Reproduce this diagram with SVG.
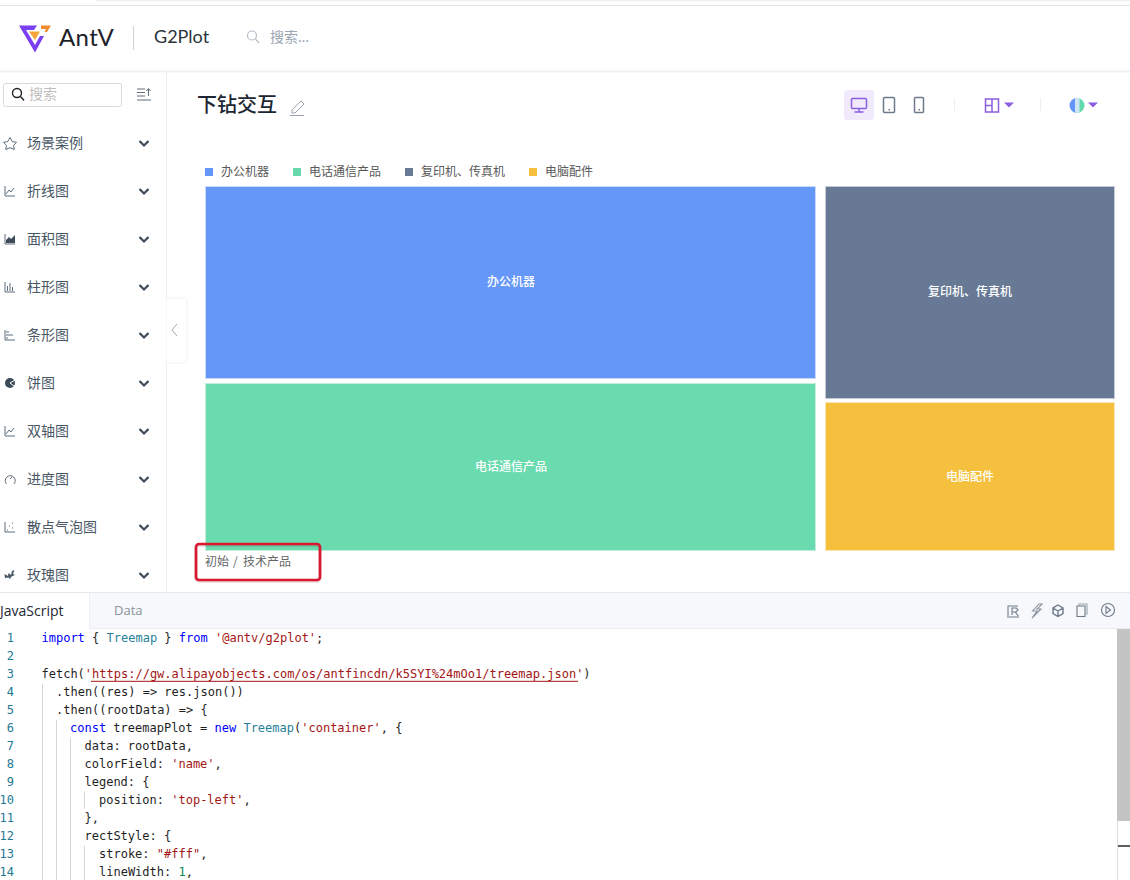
<svg xmlns="http://www.w3.org/2000/svg" width="1130" height="880" viewBox="0 0 1130 880">
<style>
text{font-family:"Noto Sans CJK SC","Noto Sans",sans-serif}
.nav{font-size:14px;fill:#4a5866}
.chev{fill:none;stroke:#3d4a58;stroke-width:2.2}
.ic{fill:none;stroke:#5f6d7c;stroke-width:1}
.lg{font-size:12px;fill:#595959}
.tm{font-size:12px;fill:#fff;text-anchor:middle;font-weight:500}
.ln{font:12px "DejaVu Sans Mono",monospace;fill:#237893;text-anchor:end}
.cd{font:12px "DejaVu Sans Mono",monospace;fill:#1f1f1f;white-space:pre}
.kw{fill:#0000ff}.ty{fill:#267f99}.st{fill:#a31515}.nm{fill:#098658}
.g{stroke:#d6d6d6;stroke-width:1}
.tb{fill:none;stroke:#6d7a8a;stroke-width:1.500}
.pu{fill:none;stroke:#8b5fe0;stroke-width:1.500}
</style>
<rect width="1130" height="880" fill="#fff"/>
<g id="topbar">
<rect x="96" y="0" width="1034" height="1" fill="#eeeeee"/>
<rect x="0" y="5" width="1130" height="1" fill="#e3e3e3"/>
<rect x="0" y="70" width="1130" height="1" fill="#f6f7f8"/>
<rect x="0" y="71" width="1130" height="1" fill="#f0f1f3"/>
<rect x="0" y="72" width="1130" height="1" fill="#f9f9fa"/>
<path d="M19 25.500H37L34 30H26L35 45L40 36L44 36L35 52.500Z" fill="#7b3ff2"/>
<path d="M41 25.500H51L47 32H44.500L46 29H41Z" fill="#f08c2e"/>
<path d="M29 31.500H40L35 40Z" fill="#f5a53a"/>
<text x="59" y="46" font-size="24" style="font-family:'Lato','Noto Sans',sans-serif;letter-spacing:.4px" fill="#1d2129">AntV</text>
<rect x="133" y="26" width="1" height="24" fill="#cfd3d7"/>
<text x="154" y="43" font-size="18" style="font-family:'Lato','Noto Sans',sans-serif" fill="#2b333b">G2Plot</text>
<circle cx="252" cy="35.500" r="4.500" fill="none" stroke="#b5bdc6" stroke-width="1.200"/><path d="M255.500 39L259 43" stroke="#b5bdc6" stroke-width="1.200"/>
<text x="270" y="42" font-size="14" fill="#9aa5b1">搜索<tspan style="font-family:'Noto Sans',sans-serif">…</tspan></text>
</g>
<g id="sidebar">
<rect x="166" y="73" width="1" height="519" fill="#eceef0"/>
<path d="M166.500 298H184a3 3 0 0 1 3 3V360a3 3 0 0 1-3 3H166.500" fill="#fff" stroke="#f2f2f2"/>
<path d="M177 324L172 330L177 336" fill="none" stroke="#a0a7ae"/>
<rect x="3.500" y="83.500" width="118" height="23" rx="2" fill="#fff" stroke="#d9d9d9"/>
<circle cx="17" cy="93" r="4.500" fill="none" stroke="#222" stroke-width="1.400"/><path d="M20.500 96.500L24 100.500" stroke="#222" stroke-width="1.400"/>
<text x="29" y="99" font-size="14" fill="#bfbfbf">搜索</text>
<path d="M137 89H145M137 92.500H145M137 96H145M137 100H151" stroke="#5f6d7c" fill="none"/><path d="M148.500 96V89M146.500 91L148.500 88.500L150.500 91" stroke="#5f6d7c" fill="none"/>
<g id="n1"><path class="ic" d="M10 137.500L12.300 141.600 16.500 142.300 13.500 145.500 14.300 149.500 10 147.700 5.700 149.500 6.500 145.500 3.500 142.300 7.700 141.600Z"/><text class="nav" x="27" y="148">场景案例</text><path class="chev" d="M139.500 141L144 145.500 148.500 141"/></g>
<g id="n2"><path class="ic" d="M5 186V196H15M6 194L9 190 11 192 14 188"/><text class="nav" x="27" y="196">折线图</text><path class="chev" d="M139.500 189L144 193.500 148.500 189"/></g>
<g id="n3"><path class="ic" d="M5 234V244H15"/><path d="M6 243V240L9 237 11 239 15 235V243Z" fill="#3d4a58"/><text class="nav" x="27" y="244">面积图</text><path class="chev" d="M139.500 237L144 241.500 148.500 237"/></g>
<g id="n4"><path class="ic" d="M5 282V292H15M7.500 291V286M10 291V283M12.500 291V287"/><text class="nav" x="27" y="292">柱形图</text><path class="chev" d="M139.500 285L144 289.500 148.500 285"/></g>
<g id="n5"><path class="ic" d="M5 330V340H15M6 332H9M6 335H13M6 338H8"/><text class="nav" x="27" y="340">条形图</text><path class="chev" d="M139.500 333L144 337.500 148.500 333"/></g>
<g id="n6"><circle cx="10" cy="383" r="5" fill="#3d4a58"/><path d="M10 383L15 380M10 383L14 386" stroke="#fff"/><text class="nav" x="27" y="388">饼图</text><path class="chev" d="M139.500 381L144 385.500 148.500 381"/></g>
<g id="n7"><path class="ic" d="M5 426V436H15M6 434L9 430 11 432 14 428"/><text class="nav" x="27" y="436">双轴图</text><path class="chev" d="M139.500 429L144 433.500 148.500 429"/></g>
<g id="n8"><path class="ic" d="M6.500 484A5 5 0 1 1 14 484M10 479L12 477"/><text class="nav" x="27" y="484">进度图</text><path class="chev" d="M139.500 477L144 481.500 148.500 477"/></g>
<g id="n9"><path class="ic" d="M5 522V532H15M7 530H8M9 526H10M12 528H13M12 523H13"/><text class="nav" x="27" y="532">散点气泡图</text><path class="chev" d="M139.500 525L144 529.500 148.500 525"/></g>
<g id="n10"><path d="M4.500 574L8 576 8.500 573 11 575 12 571 14.500 570 13 574 15 575 11.500 576.500 10 579 8.500 577.500 5 578Z" fill="#4a5866"/><text class="nav" x="27" y="580">玫瑰图</text><path class="chev" d="M139.500 573L144 577.500 148.500 573"/></g>
</g>
<g id="title">
<text x="197" y="112" font-size="20" font-weight="500" fill="#1d2733">下钻交互</text>
<path d="M292 110L301 101 304 104 295 113H292ZM290 115.500H304" fill="none" stroke="#9aa3ad"/>
</g>
<g id="toolbar">
<rect x="844" y="90" width="30" height="30" rx="3" fill="#f1eafd"/>
<rect x="851.500" y="98.500" width="15" height="10" rx="1" class="pu"/><path class="pu" d="M859 108.500V112M854.500 112H863.500"/>
<rect x="883.500" y="97.500" width="11" height="15" rx="1" class="tb"/><rect x="888.500" y="109" width="1.500" height="1.500" fill="#6d7a8a"/>
<rect x="914.500" y="97.500" width="9" height="15" rx="1" class="tb"/><rect x="918.500" y="109" width="1.500" height="1.500" fill="#6d7a8a"/>
<rect x="954" y="98" width="1" height="13" fill="#eeeeee"/>
<path class="pu" d="M985.500 99H998.500V112H985.500ZM992 99V112M985.500 105.500H992"/>
<path d="M1004 102.500H1014L1009 107.500Z" fill="#8b5fe0"/>
<rect x="1040" y="98" width="1" height="13" fill="#eeeeee"/>
<path d="M1077 98A7.500 7.500 0 0 0 1077 113Z" fill="#6395f9"/><path d="M1077 98A7.500 7.500 0 0 1 1077 113Z" fill="#62daab"/><rect x="1075" y="98.200" width="4.500" height="14.600" fill="#cfe4f5"/>
<path d="M1088 102.500H1098L1093 107.500Z" fill="#8b5fe0"/>
</g>
<g id="legend">
<rect x="205" y="168" width="8" height="8" fill="#6497f7"/><text class="lg" x="221" y="176">办公机器</text>
<rect x="293" y="168" width="8" height="8" fill="#67daad"/><text class="lg" x="309" y="176">电话通信产品</text>
<rect x="405" y="168" width="8" height="8" fill="#677995"/><text class="lg" x="421" y="176">复印机、传真机</text>
<rect x="529" y="168" width="8" height="8" fill="#f5c03e"/><text class="lg" x="545" y="176">电脑配件</text>
</g>
<g id="treemap">
<g id="t1"><rect x="205.500" y="186.500" width="610" height="192" fill="#6497f7" stroke="#c9dafb"/><text class="tm" x="511" y="286">办公机器</text></g>
<g id="t2"><rect x="205.500" y="383.500" width="610" height="167" fill="#69dbae" stroke="#c3eedd"/><text class="tm" x="511" y="471">电话通信产品</text></g>
<g id="t3"><rect x="825.500" y="186.500" width="289" height="212" fill="#677995" stroke="#c5ccd8"/><text class="tm" x="970" y="296">复印机、传真机</text></g>
<g id="t4"><rect x="825.500" y="402.500" width="289" height="148" fill="#f5c03e" stroke="#fbe7b0"/><text class="tm" x="970" y="481">电脑配件</text></g>
</g>
<g id="breadcrumb">
<text x="205" y="566" font-size="12" fill="#666">初始<tspan x="233">/</tspan><tspan x="243">技术产品</tspan></text>
<rect x="196" y="545" width="124" height="36" rx="3" fill="none" stroke="#8a1a22" stroke-opacity=".18" stroke-width="3.500"/>
<rect x="196" y="544" width="124" height="36" rx="3" fill="none" stroke="#d9172f" stroke-width="2.600"/>
</g>
<g id="tabs">
<rect x="0" y="592" width="1130" height="37" fill="#f7f8fb"/>
<rect x="0" y="592" width="1130" height="1" fill="#e6e8eb"/>
<rect x="0" y="628" width="1130" height="1" fill="#eaecef"/>
<rect x="0" y="593" width="89" height="36" fill="#fff"/>
<rect x="89" y="593" width="1" height="36" fill="#eceef0"/>
<text x="0" y="616" font-size="14" style="font-family:'Open Sans','Noto Sans',sans-serif" fill="#1d2733">JavaScript</text>
<text x="114" y="615" font-size="13" style="font-family:'Open Sans','Noto Sans',sans-serif" fill="#8a929b">Data</text>
<g fill="none" stroke="#6d7a8a" stroke-width="1.100">
<path d="M1008 616V606H1018M1007 617H1019M1012 615V608H1016.500L1018 610 1016 612H1012M1015 612L1018.500 616"/>
<path d="M1039 604L1032.500 611H1037L1032 618 1041 609H1037L1042 604Z" stroke="#8a939e"/>
<path d="M1058 605L1063 608V613.500L1058 616.500 1053 613.500V608ZM1053 608L1058 611 1063 608M1058 611V616.500" stroke-width="1.400"/>
<rect x="1077" y="606" width="8" height="10.500"/><path d="M1079 606V604H1087V614H1085" stroke="#9aa3ad"/>
<circle cx="1108" cy="610" r="6.500"/><path d="M1106 606.500L1110.500 610 1106 613.500Z"/>
</g>
</g>
<g id="code" transform="translate(0 .8)">
<path class="g" d="M42.500 683V880M56.500 719V880M70.500 737V880M84.500 791V808M84.500 845V880"/>
<g transform="translate(-1 0)"><text class="ln" x="15" y="641">1</text><text class="ln" x="15" y="659">2</text><text class="ln" x="15" y="677">3</text><text class="ln" x="15" y="695">4</text><text class="ln" x="15" y="713">5</text><text class="ln" x="15" y="731">6</text><text class="ln" x="15" y="749">7</text><text class="ln" x="15" y="767">8</text><text class="ln" x="15" y="785">9</text><text class="ln" x="15" y="803">10</text><text class="ln" x="15" y="821">11</text><text class="ln" x="15" y="839">12</text><text class="ln" x="15" y="857">13</text><text class="ln" x="15" y="875">14</text></g>
<text class="cd" x="41.500" y="641"><tspan class="kw">import</tspan> { <tspan class="ty">Treemap</tspan> } <tspan class="kw">from</tspan> <tspan class="st">'@antv/g2plot'</tspan>;</text>
<text class="cd" x="41.500" y="677">fetch(<tspan class="st">'https://gw.alipayobjects.com/os/antfincdn/k5SYI%24mOo1/treemap.json'</tspan>)</text>
<rect x="91" y="680" width="487" height="1" fill="#a31515"/>
<text class="cd" x="56" y="695">.then((res) =&gt; res.json())</text>
<text class="cd" x="56" y="713">.then((rootData) =&gt; {</text>
<text class="cd" x="70" y="731"><tspan class="kw">const</tspan> treemapPlot = <tspan class="kw">new</tspan> <tspan class="ty">Treemap</tspan>(<tspan class="st">'container'</tspan>, {</text>
<text class="cd" x="84.500" y="749">data: rootData,</text>
<text class="cd" x="84.500" y="767">colorField: <tspan class="st">'name'</tspan>,</text>
<text class="cd" x="84.500" y="785">legend: {</text>
<text class="cd" x="99" y="803">position: <tspan class="st">'top-left'</tspan>,</text>
<text class="cd" x="84.500" y="821">},</text>
<text class="cd" x="84.500" y="839">rectStyle: {</text>
<text class="cd" x="99" y="857">stroke: <tspan class="st">"#fff"</tspan>,</text>
<text class="cd" x="99" y="875">lineWidth: <tspan class="nm">1</tspan>,</text>
</g>
<g id="scrollbar">
<rect x="1117" y="629" width="13" height="251" fill="#fff"/>
<rect x="1117" y="629" width="1" height="251" fill="#dcdcdc"/>
<rect x="1117" y="629" width="13" height="192" fill="#c4c4c4"/>
<rect x="1118" y="845" width="12" height="2" fill="#5f5f5f"/>
</g>
</svg>
